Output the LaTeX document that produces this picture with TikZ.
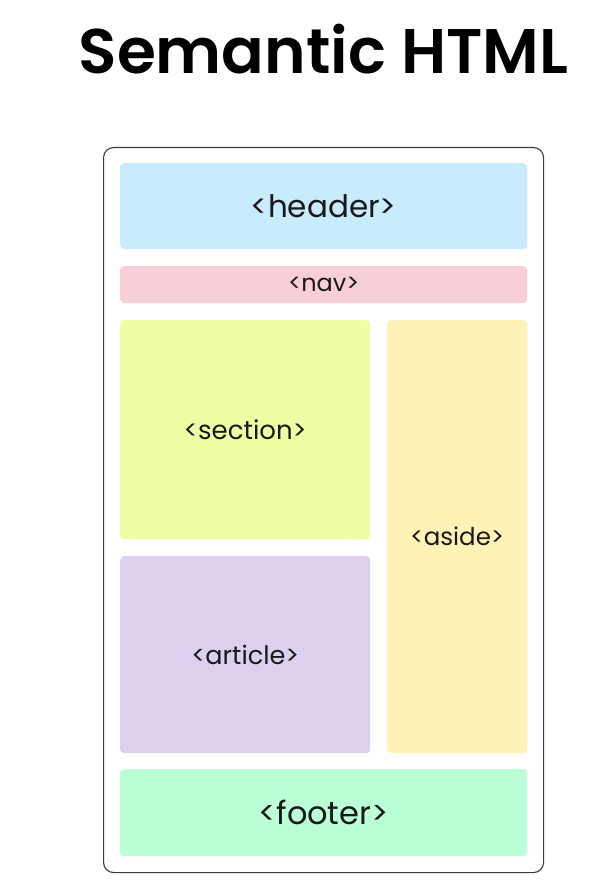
\documentclass[tikz,border=0pt]{standalone}
\usepackage{fontspec}
\setmainfont{Poppins}
\newfontfamily\titlefont{Poppins SemiBold}
\definecolor{hdrc}{HTML}{C9EBFE}
\definecolor{navc}{HTML}{F9CFD7}
\definecolor{secc}{HTML}{EDFEA5}
\definecolor{artc}{HTML}{DDD0EE}
\definecolor{asdc}{HTML}{FFF2B6}
\definecolor{ftrc}{HTML}{BBFFD6}
\definecolor{framec}{HTML}{3A3A3A}
\begin{document}
\begin{tikzpicture}[x=1pt,y=-1pt,
  block/.style={anchor=north west,inner sep=0pt,rounded corners=4pt,text=black!90},
]
\useasboundingbox[fill=white] (0,0) rectangle (600,890);
\node[font=\titlefont\fontsize{63}{63}\selectfont] (title) at (323.5,49) {Semantic HTML};
\node[draw=framec,line width=1.1pt,rounded corners=10pt,anchor=north west,inner sep=0pt,
  minimum width=440pt,minimum height=725pt] (page) at (103,147) {};
\node[block,fill=hdrc,minimum width=407pt,minimum height=86pt,font=\fontsize{31}{31}\selectfont] (header) at (120,163) {<header>};
\node[block,fill=navc,minimum width=407pt,minimum height=37pt,font=\fontsize{24}{24}\selectfont] (nav) at (120,266) {<nav>};
\node[block,fill=secc,minimum width=250pt,minimum height=219pt,font=\fontsize{26}{26}\selectfont] (section) at (120,320) {<section>};
\node[block,fill=artc,minimum width=250pt,minimum height=197pt,font=\fontsize{25.5}{25.5}\selectfont] (article) at (120,556) {<article>};
\node[block,fill=asdc,minimum width=140pt,minimum height=433pt,font=\fontsize{24.5}{24.5}\selectfont] (aside) at (387,320) {<aside>};
\node[block,fill=ftrc,minimum width=407pt,minimum height=87pt,font=\fontsize{32}{32}\selectfont] (footer) at (120,769) {<footer>};
\end{tikzpicture}
\end{document}
